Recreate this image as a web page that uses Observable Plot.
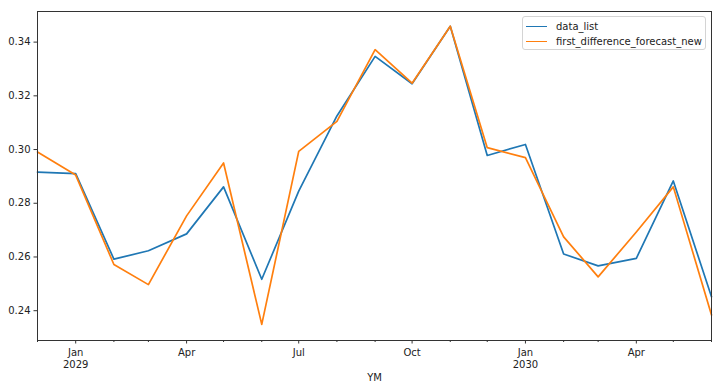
<!DOCTYPE html>
<html>
<head>
<meta charset="utf-8">
<script src="https://cdn.jsdelivr.net/npm/d3@7"></script>
<script src="https://cdn.jsdelivr.net/npm/@observablehq/plot@0.6"></script>
<style>
  html, body { margin: 0; padding: 0; background: white; }
  #wrap { position: relative; width: 720px; height: 388px; font-family: "DejaVu Sans", sans-serif; }
  #legend { position: absolute; left: 522px; top: 16px; width: 184px; height: 34px;
            border: 1px solid #d4d4d4; border-radius: 3px; background: rgba(255,255,255,0.8);
            font-size: 10px; color: #222; box-sizing: border-box; }
  .row { position: absolute; left: 0; height: 14px; display: flex; align-items: center; }
  .sw { width: 21px; height: 0; border-top: 1.7px solid; margin-left: 3px; margin-right: 9px; }
</style>
</head>
<body>
<div id="wrap">
  <div id="chart"></div>
  <div id="legend"></div>
</div>
<script>
const months = ["2028-12","2029-01","2029-02","2029-03","2029-04","2029-05","2029-06","2029-07","2029-08","2029-09","2029-10","2029-11","2029-12","2030-01","2030-02","2030-03","2030-04","2030-05","2030-06"];
const dataList = [0.2916,0.2910,0.2592,0.2623,0.2686,0.2861,0.2517,0.2845,0.3125,0.3347,0.3245,0.3459,0.2978,0.3019,0.2611,0.2567,0.2595,0.2883,0.2452];
const forecastNew = [0.2991,0.2905,0.2572,0.2497,0.2753,0.2950,0.2349,0.2993,0.3105,0.3372,0.3247,0.3459,0.3007,0.2970,0.2675,0.2526,0.2693,0.2861,0.2384];
const seriesNames = ["data_list","first_difference_forecast_new"];
const seriesColors = ["#1f77b4","#ff7f0e"];
const yTicks = [0.24,0.26,0.28,0.30,0.32,0.34];
const majorTickMonths = ["2029-01","2029-04","2029-07","2029-10","2030-01","2030-04"];
const monthNames = ["Jan","Feb","Mar","Apr","May","Jun","Jul","Aug","Sep","Oct","Nov","Dec"];
const xLabel = "YM";

const toDate = m => new Date(m + "-01T00:00:00Z");
const rows = [];
months.forEach((m, i) => {
  rows.push({date: toDate(m), value: dataList[i], series: seriesNames[0]});
});
months.forEach((m, i) => {
  rows.push({date: toDate(m), value: forecastNew[i], series: seriesNames[1]});
});
const majorDates = majorTickMonths.map(toDate);
const minorDates = months.map(toDate).filter(d => !majorDates.some(e => +e === +d));
const fmt = d => {
  const m = d.getUTCMonth();
  return m === 0 ? monthNames[m] + "\n" + d.getUTCFullYear() : monthNames[m];
};

const chart = Plot.plot({
  width: 720, height: 388,
  marginLeft: 37, marginRight: 9, marginTop: 11, marginBottom: 48,
  style: {fontFamily: "DejaVu Sans", fontSize: "10px", color: "#222", background: "white"},
  x: {type: "utc", domain: [toDate(months[0]), toDate(months[months.length - 1])]},
  y: {domain: [0.2289, 0.3514]},
  color: {domain: seriesNames, range: seriesColors},
  marks: [
    Plot.axisY(yTicks, {tickSize: 3.5, tickPadding: 3.5, tickFormat: d3.format(".2f"), label: null, stroke: "#333"}),
    Plot.axisX(minorDates, {tickSize: 2, tickFormat: () => "", label: null, stroke: "#333"}),
    Plot.axisX(majorDates, {tickSize: 3.5, tickPadding: 3.5, tickFormat: fmt, lineHeight: 1.2, stroke: "#333",
      label: xLabel, labelAnchor: "center", labelOffset: 40, labelArrow: "none"}),
    Plot.line(rows, {x: "date", y: "value", z: "series", stroke: "series", strokeWidth: 1.7}),
    Plot.frame({stroke: "#333", strokeWidth: 1})
  ]
});
document.getElementById("chart").appendChild(chart);

const legend = document.getElementById("legend");
seriesNames.forEach((name, i) => {
  const row = document.createElement("div");
  row.className = "row";
  row.style.top = (2 + i * 15.5) + "px";
  const sw = document.createElement("div");
  sw.className = "sw";
  sw.style.borderTopColor = seriesColors[i];
  const t = document.createElement("span");
  t.textContent = name;
  row.appendChild(sw);
  row.appendChild(t);
  legend.appendChild(row);
});
</script>
</body>
</html>
